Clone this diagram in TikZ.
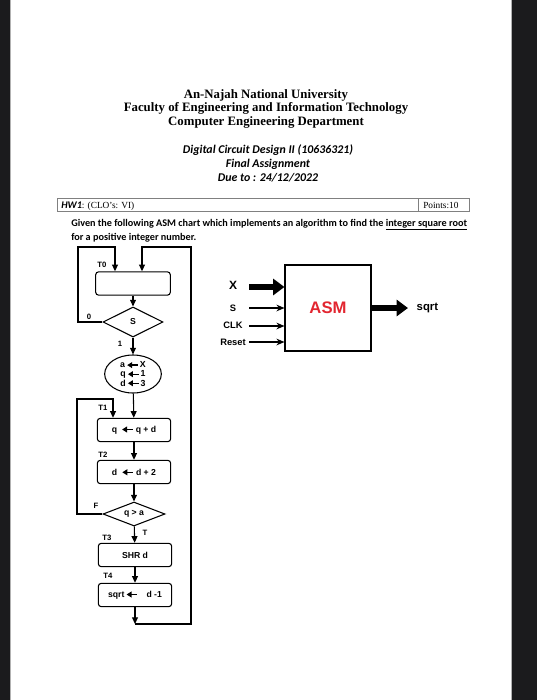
\documentclass[tikz,border=0pt]{standalone}
\usepackage{fontspec}
\setmainfont{Liberation Serif}
\newfontfamily\calibfont{Carlito}
\newfontfamily\arialfont{Liberation Sans}
\usetikzlibrary{arrows.meta,calc,shapes.geometric}
\definecolor{asmred}{RGB}{226,38,48}
\definecolor{bezel}{RGB}{27,27,29}
\tikzset{stateblk/.style={draw,line width=.8pt,rounded corners=2.2pt,minimum width=55pt,minimum height=17.5pt,inner sep=0pt},
 decision/.style={draw,line width=.8pt,diamond,aspect=2,inner sep=0pt},
 flow/.style={-{Triangle[length=5pt,width=4.4pt]},line width=.8pt},
 steplbl/.style={font=\arialfont\bfseries\fontsize{5.8}{6}\selectfont,inner sep=0pt},
 bus/.style={-{Triangle[length=8.5pt,width=12pt]},line width=4pt},
 sig/.style={-{Stealth[length=6pt,width=5pt]},line width=1.1pt},
 titleln/.style={font=\bfseries\fontsize{9.6}{11}\selectfont,anchor=base,inner sep=0pt},
 courseln/.style={font=\calibfont\bfseries\itshape\fontsize{8.9}{10}\selectfont,anchor=base,inner sep=0pt},
 taskln/.style={font=\calibfont\bfseries\fontsize{7.65}{9}\selectfont,anchor=base west,inner sep=0pt},
 every node/.style={font=\arialfont\bfseries\fontsize{6.5}{6.7}\selectfont}}
\newcommand{\asg}{\tikz[baseline=-.6ex]\draw[line width=1pt,{Triangle[length=3.8pt,width=4.4pt]}-](0,0)--(8pt,0);}

\begin{document}
\begin{tikzpicture}[x=.75pt,y=-.75pt]
\useasboundingbox (0,0) rectangle (537,700);
\fill[bezel] (0,0) rectangle (10,700);
\fill[bezel] (512,0) rectangle (537,700);
\draw[gray!60,line width=.6pt] (10.3,0)--(10.3,700) (511.7,0)--(511.7,700);
% header
\node[titleln] (uni) at (266,98) {An-Najah National University};
\node[titleln] (fac) at (266,111.5) {Faculty of Engineering and Information Technology};
\node[titleln] (dept) at (266,125) {Computer Engineering Department};
\node[courseln] (course) at (268,153) {Digital Circuit Design II (10636321)};
\node[courseln] (final) at (268,167) {Final Assignment};
\node[courseln] (due) at (268,181) {Due to : 24/12/2022};
\draw[gray,line width=.5pt] (57,198) rectangle (469,211.5) (418,198)--(418,211.5);
\node[anchor=base west,inner sep=0pt,font=\fontsize{7}{8}\selectfont] (hw) at (61,208.5)
 {{\calibfont\bfseries\itshape\fontsize{7.6}{8}\selectfont HW1}: (CLO's: VI)};
\node[anchor=base west,inner sep=0pt,font=\fontsize{7}{8}\selectfont] (pts) at (423,208.5) {Points:10};
\node[taskln] (task) at (71,226) {Given the following ASM chart which implements an algorithm to find the \underline{integer square root}};
\node[taskln] (task2) at (71,240) {for a positive integer number.};
% ASM chart
\node[stateblk,minimum width=56pt] (T0) at (133,283.5) {};
\node[decision,minimum width=45pt,minimum height=22.5pt] (S) at (133,322) {S};
\node[draw,line width=.8pt,ellipse,inner sep=0pt,minimum width=42.5pt,minimum height=28.5pt,align=center,
 font=\arialfont\bfseries\fontsize{6.6}{6.8}\selectfont] (init) at (133,374) {a\,\asg\,X\\q\,\asg\,1\\d\,\asg\,3};
\node[stateblk] (T1) at (134,430) {q\enspace\asg\ q + d};
\node[stateblk] (T2) at (134,472) {d\enspace\asg\ d + 2};
\node[decision,minimum width=46.5pt,minimum height=18pt] (cmp) at (134,514) {q > a};
\node[stateblk] (T3) at (135,555) {SHR\ d};
\node[stateblk] (T4) at (135,595) {sqrt\,\asg\quad d -1};
\coordinate (ret) at (135,624);
\coordinate (retTop) at (191,247);
\coordinate (sBack) at (78,247);
\coordinate (cBack) at (77,399);
\draw[flow] (T0) -- (S);
\draw[flow] (S) -- (init);
\draw[flow] (init) -- (T1);
\draw[flow] (T1) -- (T2);
\draw[flow] (T2) -- (cmp);
\draw[flow] (cmp) -- (T3);
\draw[flow] (T3) -- (T4);
\draw[flow] (T4) -- (ret);
\draw[flow] (S.west) -| (sBack) -| ($(T0.north)+(-18,0)$);
\draw[flow] (ret) -| (retTop) -| ($(T0.north)+(9,0)$);
\draw[flow] (cmp.west) -| (cBack) -| ($(T1.north)+(-21,0)$);
\node[steplbl] (l0) at (102,265) {T0};
\node[steplbl] (l1) at (103,408) {T1};
\node[steplbl] (l2) at (103,455) {T2};
\node[steplbl] (l3) at (107,538) {T3};
\node[steplbl] (l4) at (108,576) {T4};
\node[steplbl] (b0) at (89,317) {0};
\node[steplbl] (b1) at (120,344) {1};
\node[steplbl] (bF) at (96,506) {F};
\node[steplbl] (bT) at (145,533) {T};
% block symbol
\node[draw,line width=.8pt,minimum width=64.5pt,minimum height=64.5pt,inner sep=0pt,
 font=\arialfont\bfseries\fontsize{12.5}{13}\selectfont,text=asmred] (asm) at (328,308) {ASM};
\coordinate (xin) at (249,287);
\coordinate (sin) at (249,308);
\coordinate (clkin) at (249,326);
\coordinate (rstin) at (249,342);
\coordinate (sqout) at (408,308);
\draw[bus] (xin) -- (xin -| asm.west);
\draw[sig] (sin) -- (sin -| asm.west);
\draw[sig] (clkin) -- (clkin -| asm.west);
\draw[sig] (rstin) -- (rstin -| asm.west);
\draw[bus] (asm.east) -- (sqout);
\node[font=\arialfont\bfseries\fontsize{9}{9}\selectfont] (xlbl) at (233,285) {X};
\node[font=\arialfont\bfseries\fontsize{7}{7}\selectfont] (slbl) at (233,308) {S};
\node[font=\arialfont\bfseries\fontsize{7}{7}\selectfont] (clklbl) at (233,325) {CLK};
\node[font=\arialfont\bfseries\fontsize{7}{7}\selectfont] (rstlbl) at (233,342) {Reset};
\node[font=\arialfont\bfseries\fontsize{8.5}{8.5}\selectfont,anchor=west] (sqlbl) at (412,308) {sqrt};
\end{tikzpicture}
\end{document}
